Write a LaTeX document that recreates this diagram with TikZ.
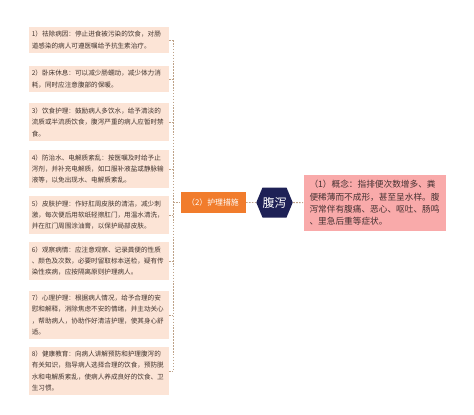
\documentclass[tikz,border=0pt]{standalone}
\usepackage{fontspec}
\setmainfont{Noto Sans CJK SC}
\usetikzlibrary{shapes.symbols}

\tikzset{every picture/.style={line width=0.75pt}}
\tikzset{
  stepitem/.style={fill={rgb, 255:red, 252; green, 228; blue, 214 }, text={rgb, 255:red, 66; green, 52; blue, 46 }, anchor=west, align=left, text width=100pt, inner xsep=2.5pt, inner ysep=3pt, font=\fontsize{4.95}{8.6}\selectfont},
  dashlink/.style={draw={rgb, 255:red, 190; green, 162; blue, 136 }, line width=0.6pt, dash pattern=on 1.2pt off 1pt},
}

\begin{document}
\begin{tikzpicture}[x=0.75pt,y=0.75pt,yscale=-1,xscale=1]
\useasboundingbox (0,0) rectangle (474,414);

%Shape: Rectangle [left items]
\node [stepitem] (b1) at (28,40) {1）祛除病因：停止进食被污染的饮食，对肠\\道感染的病人可遵医嘱给予抗生素治疗。};
\node [stepitem] (b2) at (28,79) {2）卧床休息：可以减少肠蠕动，减少体力消\\耗，同时应注意腹部的保暖。};
\node [stepitem] (b3) at (28,122) {3）饮食护理：鼓励病人多饮水，给予清淡的\\流质或半流质饮食，腹泻严重的病人应暂时禁\\食。};
\node [stepitem] (b4) at (28,169) {4）防治水、电解质紊乱：按医嘱及时给予止\\泻剂，并补充电解质，如口服补液盐或静脉输\\液等，以免出现水、电解质紊乱。};
\node [stepitem] (b5) at (28,215) {5）皮肤护理：作好肛周皮肤的清洁，减少刺\\激，每次便后用软纸轻擦肛门，用温水清洗，\\并在肛门周围涂油膏，以保护局部皮肤。};
\node [stepitem] (b6) at (28,261) {6）观察病情：应注意观察、记录粪便的性质\\、颜色及次数，必要时留取标本送检，疑有传\\染性疾病，应按隔离原则护理病人。};
\node [stepitem] (b7) at (28,315) {7）心理护理：根据病人情况，给予合理的安\\慰和解释，消除焦虑不安的情绪，并主动关心\\，帮助病人，协助作好清洁护理，使其身心舒\\适。};
\node [stepitem] (b8) at (28,371) {8）健康教育：向病人讲解预防和护理腹泻的\\有关知识，指导病人选择合理的饮食，预防脱\\水和电解质紊乱，使病人养成良好的饮食、卫\\生习惯。};

%Shape: Rectangle [orange]
\node [fill={rgb, 255:red, 241; green, 124; blue, 44 }, text=white, anchor=west, minimum width=48.75pt, minimum height=15.75pt, inner sep=1pt, font=\fontsize{5.9}{7}\selectfont] (care) at (180,202.5) {（2）护理措施};
%Shape: Hexagon
\node [signal, signal to=east and west, signal pointer angle=135, fill={rgb, 255:red, 30; green, 33; blue, 86 }, text=white, minimum width=27pt, minimum height=22.5pt, inner sep=0pt, font=\fontsize{9}{10}\selectfont] (main) at (274.5,202.5) {腹泻};
%Shape: Rectangle [pink]
\node [fill={rgb, 255:red, 249; green, 170; blue, 170 }, text={rgb, 255:red, 70; green, 50; blue, 50 }, anchor=west, align=left, text width=97.5pt, inner xsep=4.5pt, inner ysep=4.3pt, font=\fontsize{6.5}{9.2}\selectfont] (concept) at (303,203) {（1）概念：指排便次数增多、粪\\便稀薄而不成形，甚至呈水样。腹\\泻常伴有腹痛、恶心、呕吐、肠鸣\\、里急后重等症状。};

%Straight Lines
\coordinate (spn) at (173,0);
\draw [dashlink] (b1.east -| spn) -- (b8.east -| spn);
\draw [dashlink] (b1.east) -- (b1.east -| spn);
\draw [dashlink] (b2.east) -- (b2.east -| spn);
\draw [dashlink] (b3.east) -- (b3.east -| spn);
\draw [dashlink] (b4.east) -- (b4.east -| spn);
\draw [dashlink] (b5.east) -- (b5.east -| spn);
\draw [dashlink] (b6.east) -- (b6.east -| spn);
\draw [dashlink] (b7.east) -- (b7.east -| spn);
\draw [dashlink] (b8.east) -- (b8.east -| spn);
\draw [dashlink] (care.west -| spn) -- (care.west);
\draw [dashlink] (care) -- (main);
\draw [dashlink] (main) -- (concept);

\end{tikzpicture}
\end{document}
